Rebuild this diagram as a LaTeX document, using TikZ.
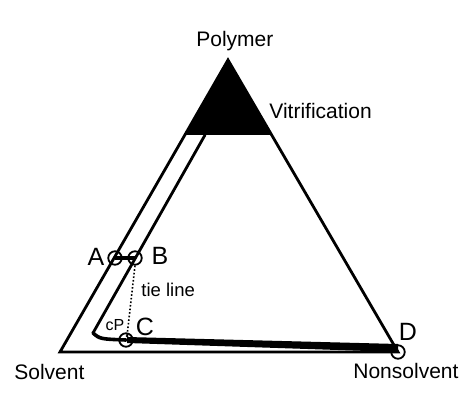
\documentclass[tikz,border=0pt]{standalone}
\usepackage{fontspec}
\setmainfont{Liberation Sans}
\usetikzlibrary{calc}

\tikzset{
  ring/.style={circle,draw,line width=1.8pt,minimum size=13.5pt,inner sep=0pt},
  lbl/.style={inner sep=0pt,anchor=base west,font=\fontsize{21}{21}\selectfont},
  bigl/.style={inner sep=0pt,font=\fontsize{25}{25}\selectfont},
}

\begin{document}
\begin{tikzpicture}[x=1pt,y=-1pt,line width=2.8pt]
\useasboundingbox (0,0) rectangle (474,406);
\coordinate (P) at (228,60);
\coordinate (S) at (60,352);
\coordinate (N) at (398,352);
\coordinate (VL) at (185,135);
\coordinate (VR) at (272,135);
\coordinate (BT) at (205,135);
\coordinate (cp) at (93,333);
\coordinate (cdot) at (127,336);
%vitrification
\fill (P) -- (VL) -- (VR) -- cycle;
\draw[line join=miter] (S) -- (P) -- (N) -- cycle;
\node[ring] (A) at (115,258) {};
\node[ring] (B) at (135,258) {};
\node[ring] (C) at (126,340) {};
\node[ring] (D) at (398,352) {};
%binodal
\draw[line join=round,line cap=round] (BT) -- (cp);
\draw[line width=3.6pt,line cap=round] (cp) .. controls (100,339) .. (C.center);
\fill (127,337) -- (398,344) -- (398,352) -- (127,343) -- cycle;
%tie line
\draw[line width=4.5pt] (A.center) -- (B.center);
\draw[dotted,line width=1.6pt] (B.south) -- (cdot);
\fill (cdot) circle (1.5);
\node[lbl] (poly) at (195,47) {Polymer};
\node[lbl] (vit) at (268,119) {Vitrification};
\node[lbl] (solv) at (13,379) {Solvent};
\node[lbl] (nons) at (352,378) {Nonsolvent};
\node[bigl] (lA) at (96,257) {A};
\node[bigl] (lB) at (160,256) {B};
\node[bigl] (lC) at (145,327) {C};
\node[bigl] (lD) at (408,332) {D};
\node[inner sep=0pt,font=\fontsize{16}{16}\selectfont] (lcp) at (115,325) {cP};
\node[inner sep=0pt,anchor=base west,font=\fontsize{18.5}{18.5}\selectfont] (tie) at (140,296) {tie line};
\end{tikzpicture}
\end{document}
